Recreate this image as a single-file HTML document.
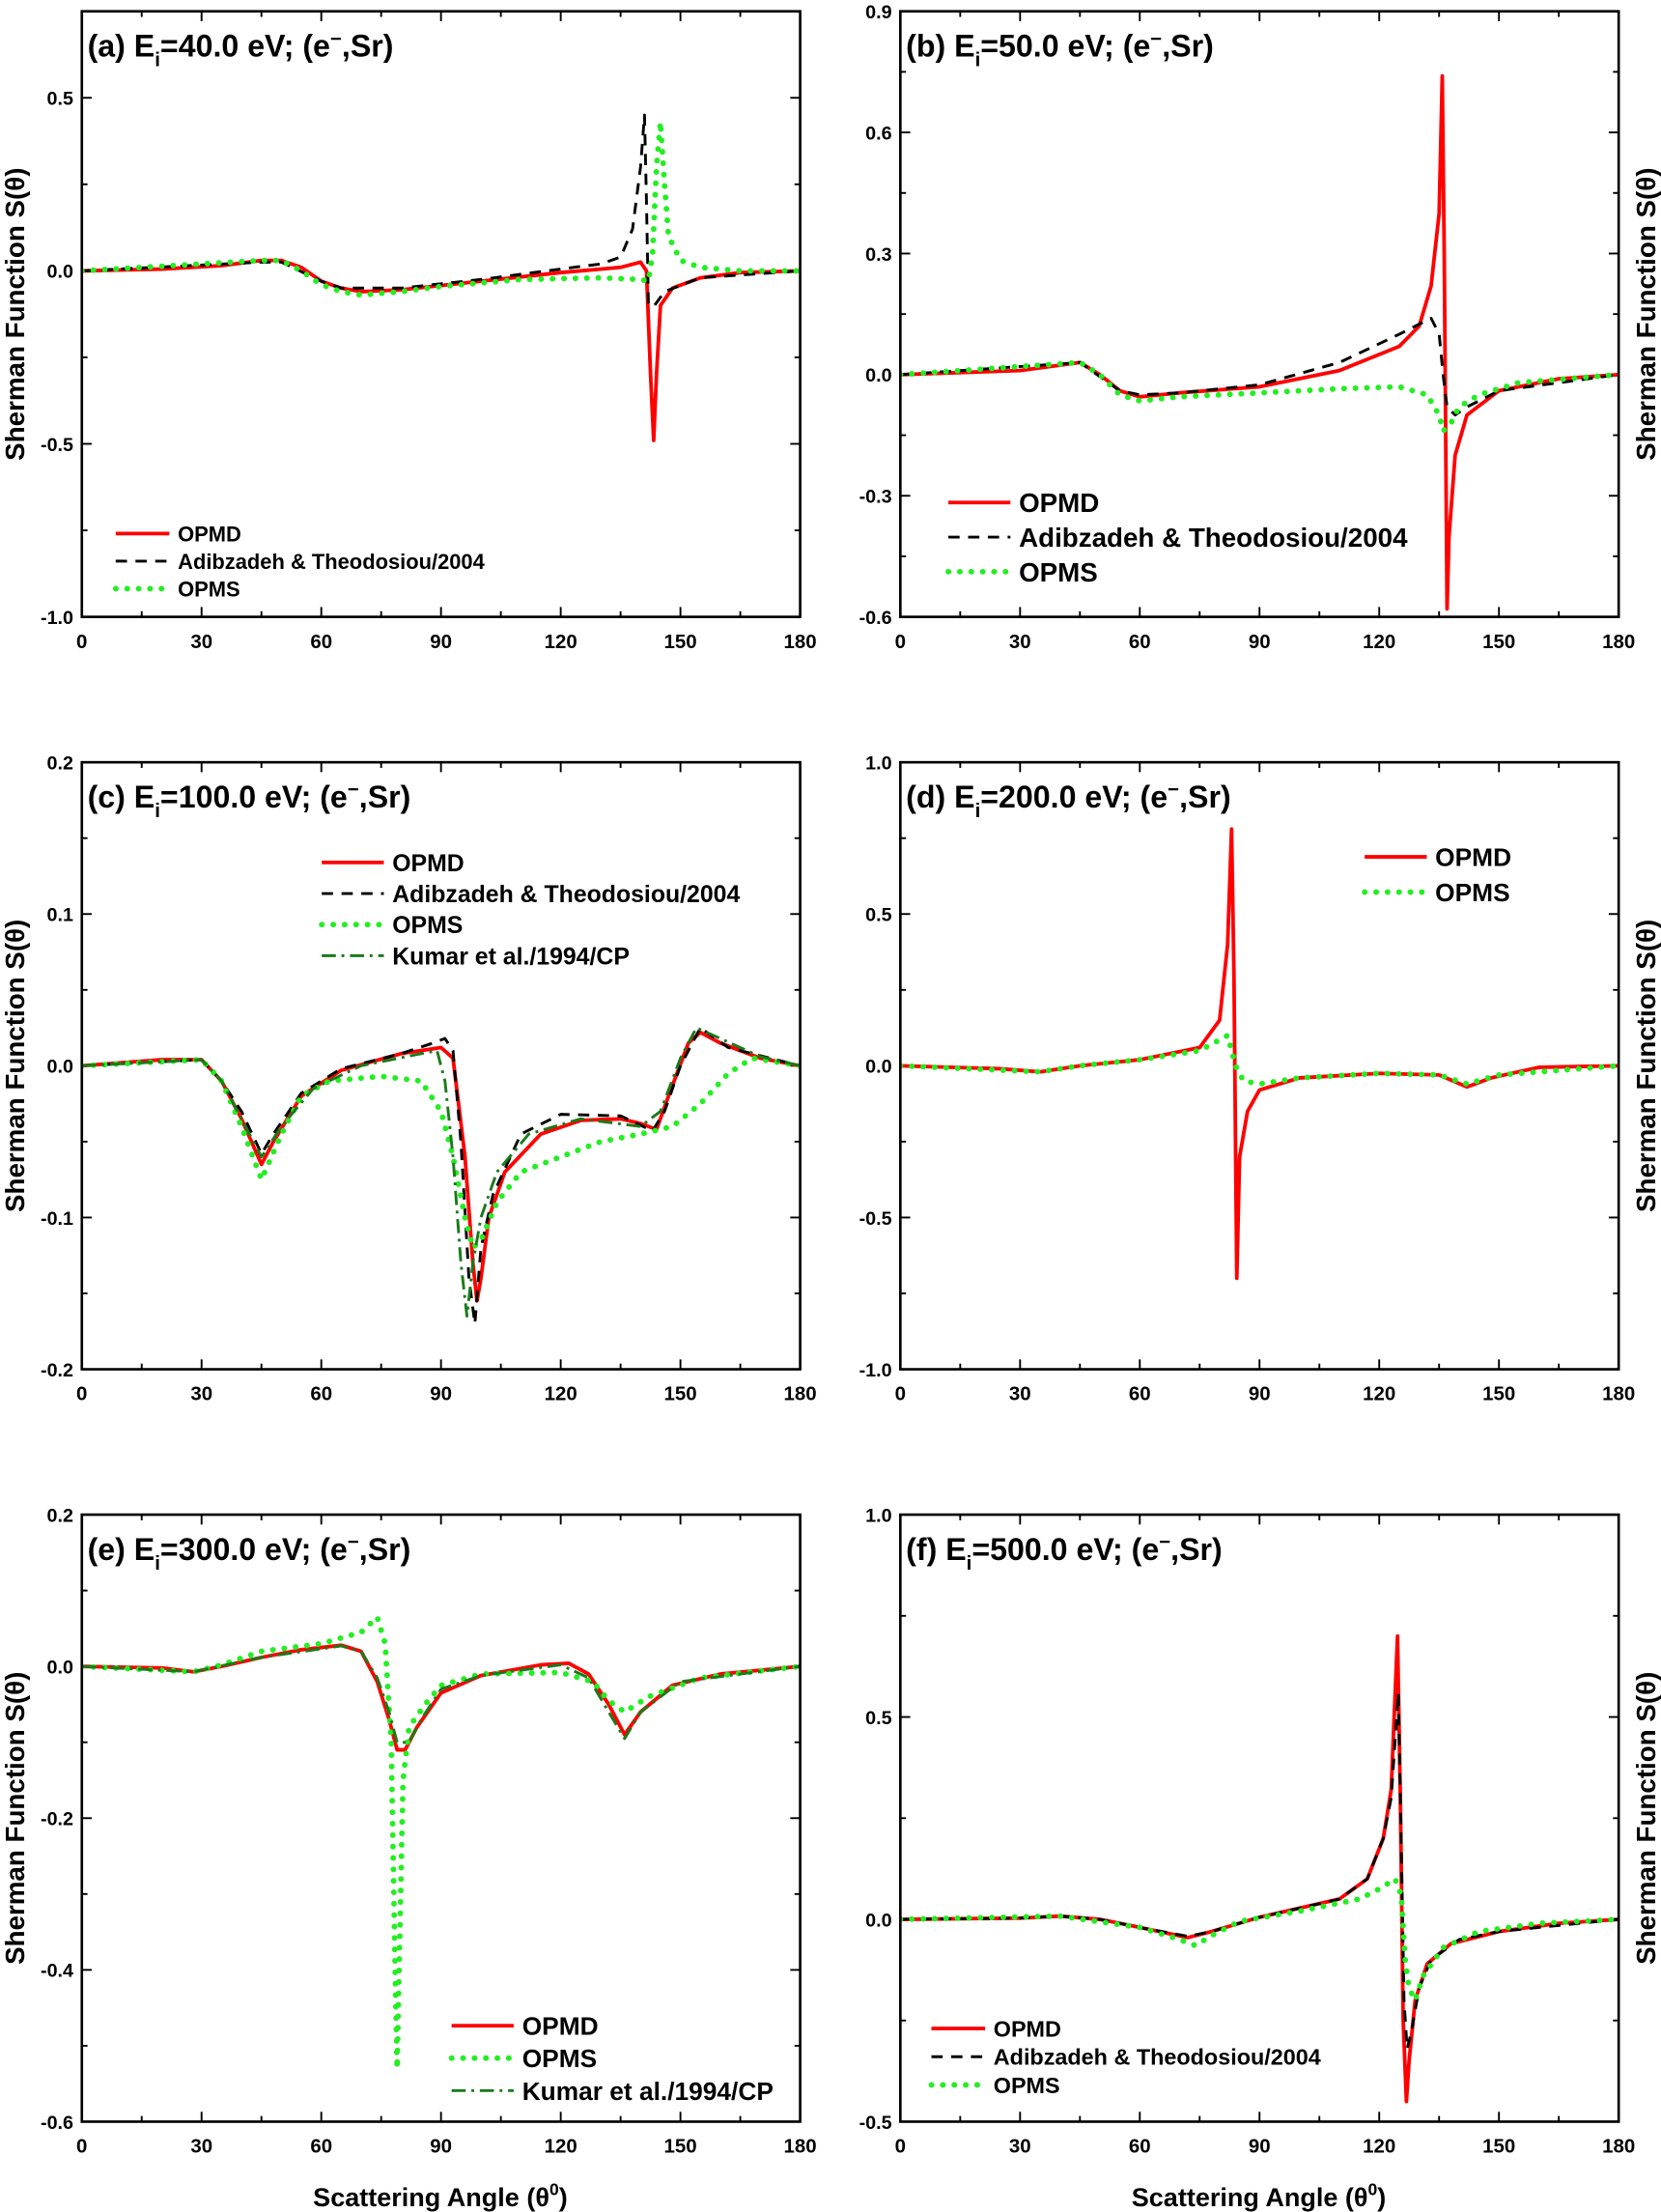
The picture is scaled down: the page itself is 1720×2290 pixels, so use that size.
<!DOCTYPE html>
<html><head><meta charset="utf-8"><style>
html,body{margin:0;padding:0;background:#fff}
svg{display:block}
text{font-family:"Liberation Sans",Arial,sans-serif;font-weight:bold;fill:#000}
</style></head><body>
<svg id="s" width="1720" height="2290" viewBox="0 0 1177 1567" preserveAspectRatio="none" xmlns="http://www.w3.org/2000/svg"></svg>
<script>
const S=document.getElementById('s');let h='';
const panels=[
{x0:58,x1:567,y0:8,y1:437,ymin:-1,ymax:0.75,lab:[-1,-0.5,0,0.5],minor:0.25,fmt:1,side:'L',title:['(a)','40.0'],
 leg:{x:82,y:378,dy:19.5,fs:15,items:['r','k','g']},
 s:{r:[[0,0],[20,0.005],[35,0.015],[45,0.03],[50,0.03],[55,0.01],[60,-0.03],[65,-0.05],[70,-0.06],[80,-0.055],[100,-0.03],[120,-0.005],[135,0.01],[140,0.025],[141.5,0],[142.5,-0.3],[143.3,-0.49],[144,-0.3],[145,-0.1],[148,-0.05],[155,-0.02],[165,-0.005],[180,0]],
 k:[[0,0],[45,0.025],[50,0.025],[60,-0.03],[65,-0.05],[80,-0.05],[100,-0.025],[120,0.005],[130,0.02],[135,0.04],[138,0.12],[140,0.3],[141,0.45],[141.5,0.2],[142,-0.1],[143.5,-0.1],[146,-0.06],[155,-0.02],[180,0]],
 g:[[0,0],[45,0.03],[50,0.03],[55,0],[60,-0.04],[65,-0.06],[70,-0.07],[80,-0.06],[90,-0.045],[110,-0.025],[130,-0.02],[140,-0.025],[142,-0.03],[143,0.05],[144,0.3],[145,0.43],[146,0.25],[147,0.1],[150,0.03],[155,0.01],[165,0],[180,0]]}},
{x0:638,x1:1147,y0:8,y1:437,ymin:-0.6,ymax:0.9,lab:[-0.6,-0.3,0,0.3,0.6,0.9],minor:0.15,fmt:1,side:'R',title:['(b)','50.0'],
 leg:{x:672,y:356,dy:24.5,fs:19,items:['r','k','g']},
 s:{r:[[0,0],[30,0.01],[45,0.03],[50,0],[55,-0.04],[60,-0.055],[70,-0.045],[90,-0.03],[110,0.01],[125,0.07],[130,0.12],[133,0.22],[135,0.4],[135.8,0.74],[136.3,0.3],[137,-0.58],[137.5,-0.4],[139,-0.2],[142,-0.1],[150,-0.04],[165,-0.01],[180,0]],
 k:[[0,0],[45,0.03],[55,-0.04],[60,-0.05],[70,-0.045],[90,-0.025],[110,0.03],[125,0.1],[133,0.14],[135,0.1],[136,0],[137,-0.08],[139,-0.1],[142,-0.08],[150,-0.04],[180,0]],
 g:[[0,0],[45,0.03],[50,0],[55,-0.05],[60,-0.065],[70,-0.055],[90,-0.045],[110,-0.035],[125,-0.03],[132,-0.05],[135,-0.1],[136,-0.14],[138,-0.12],[140,-0.08],[145,-0.05],[155,-0.02],[180,0]]}},
{x0:58,x1:567,y0:540,y1:970,ymin:-0.2,ymax:0.2,lab:[-0.2,-0.1,0,0.1,0.2],minor:0.05,fmt:1,side:'L',title:['(c)','100.0'],
 leg:{x:228,y:611,dy:22,fs:17,items:['r','k','g','d']},
 s:{r:[[0,0],[20,0.004],[30,0.004],[35,-0.01],[40,-0.035],[45,-0.065],[48,-0.05],[55,-0.02],[65,-0.003],[80,0.008],[90,0.012],[93,0.005],[96,-0.06],[98,-0.13],[99,-0.155],[100,-0.14],[102,-0.1],[106,-0.07],[115,-0.045],[125,-0.036],[135,-0.035],[140,-0.038],[144,-0.042],[147,-0.02],[152,0.015],[155,0.022],[160,0.015],[170,0.005],[180,0]],
 k:[[0,0],[30,0.004],[35,-0.01],[40,-0.03],[45,-0.058],[48,-0.045],[55,-0.018],[65,-0.002],[80,0.008],[88,0.015],[91,0.018],[93,0.01],[95,-0.05],[97,-0.14],[98.5,-0.17],[100,-0.12],[103,-0.085],[110,-0.045],[120,-0.032],[135,-0.033],[143,-0.043],[146,-0.03],[150,0],[155,0.025],[162,0.012],[180,0]],
 g:[[0,0],[30,0.004],[35,-0.01],[40,-0.04],[45,-0.075],[50,-0.045],[55,-0.02],[62,-0.01],[75,-0.007],[85,-0.01],[90,-0.03],[93,-0.06],[96,-0.1],[98,-0.12],[100,-0.115],[104,-0.09],[110,-0.07],[120,-0.06],[130,-0.05],[140,-0.045],[148,-0.04],[155,-0.025],[162,-0.005],[168,0.005],[180,0]],
 d:[[0,0],[30,0.004],[35,-0.01],[40,-0.035],[45,-0.06],[50,-0.04],[58,-0.015],[70,0],[85,0.008],[89,0.01],[91,-0.01],[93,-0.06],[95,-0.13],[96.5,-0.165],[98,-0.13],[100,-0.1],[104,-0.07],[112,-0.045],[125,-0.035],[140,-0.04],[145,-0.03],[150,0.005],[154,0.025],[160,0.018],[170,0.006],[180,0]]}},
{x0:638,x1:1147,y0:540,y1:970,ymin:-1,ymax:1,lab:[-1,-0.5,0,0.5,1],minor:0.25,fmt:1,side:'R',title:['(d)','200.0'],
 leg:{x:967,y:607,dy:25,fs:18,items:['r','g']},
 s:{r:[[0,0],[25,-0.01],[35,-0.02],[45,0],[60,0.02],[75,0.06],[80,0.15],[82,0.4],[83,0.78],[83.6,0.3],[84.3,-0.7],[85,-0.3],[87,-0.15],[90,-0.08],[100,-0.04],[120,-0.025],[135,-0.03],[142,-0.07],[148,-0.04],[160,-0.005],[180,0]],
 g:[[0,0],[35,-0.02],[45,0],[60,0.02],[75,0.05],[82,0.1],[84,0],[86,-0.05],[90,-0.06],[100,-0.04],[120,-0.025],[135,-0.03],[142,-0.06],[150,-0.03],[180,0]]}},
{x0:58,x1:567,y0:1073,y1:1503,ymin:-0.6,ymax:0.2,lab:[-0.6,-0.4,-0.2,0,0.2],minor:0.1,fmt:1,side:'L',title:['(e)','300.0'],
 leg:{x:320,y:1435,dy:23,fs:18,items:['r','g','d']},
 s:{r:[[0,0],[20,-0.002],[28,-0.007],[35,0],[45,0.012],[55,0.022],[65,0.028],[70,0.02],[74,-0.02],[77,-0.07],[79,-0.11],[81,-0.11],[84,-0.08],[90,-0.035],[100,-0.012],[115,0.002],[122,0.004],[127,-0.01],[132,-0.05],[136,-0.09],[140,-0.06],[148,-0.025],[160,-0.01],[180,0]],
 g:[[0,0],[28,-0.007],[35,0.002],[45,0.02],[60,0.03],[70,0.045],[74,0.065],[76,0.03],[77.5,-0.1],[78.5,-0.4],[79,-0.53],[79.5,-0.4],[80.5,-0.15],[82,-0.08],[86,-0.05],[90,-0.025],[100,-0.01],[120,-0.008],[128,-0.02],[132,-0.045],[136,-0.06],[142,-0.04],[155,-0.015],[180,0]],
 d:[[0,0],[28,-0.007],[45,0.012],[65,0.027],[70,0.02],[74,-0.015],[77,-0.06],[79,-0.1],[82,-0.1],[85,-0.07],[90,-0.03],[100,-0.012],[120,0.002],[127,-0.015],[132,-0.06],[136,-0.095],[140,-0.06],[150,-0.02],[180,0]]}},
{x0:638,x1:1147,y0:1073,y1:1503,ymin:-0.5,ymax:1,lab:[-0.5,0,0.5,1],minor:0.25,fmt:1,side:'R',title:['(f)','500.0'],
 leg:{x:660,y:1437,dy:20,fs:16,items:['r','k','g']},
 s:{r:[[0,0],[30,0.003],[40,0.008],[50,0],[60,-0.02],[72,-0.045],[78,-0.03],[90,0.005],[110,0.05],[117,0.1],[121,0.2],[123,0.32],[124.6,0.7],[125.3,0.3],[126,-0.25],[126.8,-0.45],[127.5,-0.35],[129,-0.2],[132,-0.11],[138,-0.06],[150,-0.03],[165,-0.01],[180,0]],
 k:[[0,0],[30,0.003],[40,0.008],[50,0],[60,-0.02],[72,-0.042],[78,-0.03],[90,0.005],[110,0.05],[117,0.1],[121,0.2],[123,0.3],[124.8,0.56],[125.5,0.2],[126.2,-0.2],[127,-0.32],[128,-0.28],[130,-0.17],[133,-0.1],[140,-0.05],[150,-0.03],[180,0]],
 g:[[0,0],[40,0.008],[60,-0.02],[70,-0.05],[74,-0.065],[78,-0.04],[85,-0.005],[100,0.02],[115,0.05],[120,0.075],[124,0.1],[125.5,0.06],[126.5,-0.1],[127.5,-0.17],[129,-0.2],[131,-0.14],[136,-0.07],[145,-0.03],[160,-0.01],[180,0]]}}
];
const sty={r:'stroke="#f00" stroke-width="2.6" fill="none"',
k:'stroke="#000" stroke-width="2" stroke-dasharray="8 6" fill="none"',
g:'stroke="#2e2" stroke-width="4" stroke-linecap="round" stroke-dasharray="0.1 8" fill="none"',
d:'stroke="#1a7a1a" stroke-width="2" stroke-dasharray="10 4 2 4" fill="none"'};
const names={r:'OPMD',k:'Adibzadeh &amp; Theodosiou/2004',g:'OPMS',d:'Kumar et al./1994/CP'};
function f(v){return (Math.abs(v)<1e-9?0:v).toFixed(1)}
panels.forEach(p=>{
 const X=x=>p.x0+(x/180)*(p.x1-p.x0), Y=y=>p.y1-(y-p.ymin)/(p.ymax-p.ymin)*(p.y1-p.y0);
 h+=`<clipPath id="c${p.x0}${p.y0}"><rect x="${p.x0}" y="${p.y0}" width="${p.x1-p.x0}" height="${p.y1-p.y0}"/></clipPath>`;
 for(let t=0;t<=180;t+=15){const L=t%30?4:7;const x=X(t);
  h+=`<line x1="${x}" y1="${p.y1}" x2="${x}" y2="${p.y1-L}" stroke="#000" stroke-width="1.3"/><line x1="${x}" y1="${p.y0}" x2="${x}" y2="${p.y0+L}" stroke="#000" stroke-width="1.3"/>`;
  if(t%30==0)h+=`<text x="${x}" y="${p.y1+22}" font-size="14" text-anchor="middle">${t}</text>`;}
 for(let v=p.ymin;v<=p.ymax+1e-9;v+=p.minor){const y=Y(v);const maj=p.lab.some(l=>Math.abs(l-v)<1e-6);const L=maj?7:4;
  h+=`<line x1="${p.x0}" y1="${y}" x2="${p.x0+L}" y2="${y}" stroke="#000" stroke-width="1.3"/><line x1="${p.x1}" y1="${y}" x2="${p.x1-L}" y2="${y}" stroke="#000" stroke-width="1.3"/>`;
  if(maj)h+=`<text x="${p.x0-6}" y="${y+5}" font-size="13.5" text-anchor="end">${f(v)}</text>`;}
 Object.keys(p.s).forEach(k=>{const pts=p.s[k].map(q=>X(q[0]).toFixed(1)+','+Y(q[1]).toFixed(1)).join(' ');
  h+=`<polyline clip-path="url(#c${p.x0}${p.y0})" points="${pts}" ${sty[k]} stroke-linejoin="round"/>`;});
 h+=`<rect x="${p.x0}" y="${p.y0}" width="${p.x1-p.x0}" height="${p.y1-p.y0}" fill="none" stroke="#000" stroke-width="1.8"/>`;
 h+=`<text x="${p.x0+4}" y="${p.y0+32}" font-size="22">${p.title[0]} E<tspan font-size="14" dy="7">i</tspan><tspan dy="-7">=${p.title[1]} eV; (e</tspan><tspan font-size="14" dy="-8">−</tspan><tspan dy="8">,Sr)</tspan></text>`;
 const lg=p.leg;const len=lg.fs>=17?44:38;
 lg.items.forEach((k,i)=>{const y=lg.y+i*lg.dy;
  h+=`<line x1="${lg.x}" y1="${y}" x2="${lg.x+len}" y2="${y}" ${sty[k]}/><text x="${lg.x+len+6}" y="${y+lg.fs*0.36}" font-size="${lg.fs}">${names[k]}</text>`;});
 const cy=(p.y0+p.y1)/2;
 const lx=p.side=='L'?17:1173;
 h+=`<text transform="translate(${lx},${cy}) rotate(-90)" font-size="19" text-anchor="middle">Sherman Function S(θ)</text>`;
});
h+=`<text x="312" y="1563" font-size="18.5" text-anchor="middle">Scattering Angle (θ<tspan font-size="12" dy="-8">0</tspan><tspan dy="8">)</tspan></text>`;
h+=`<text x="892" y="1563" font-size="18.5" text-anchor="middle">Scattering Angle (θ<tspan font-size="12" dy="-8">0</tspan><tspan dy="8">)</tspan></text>`;
S.innerHTML=h;
</script>
</body></html>
